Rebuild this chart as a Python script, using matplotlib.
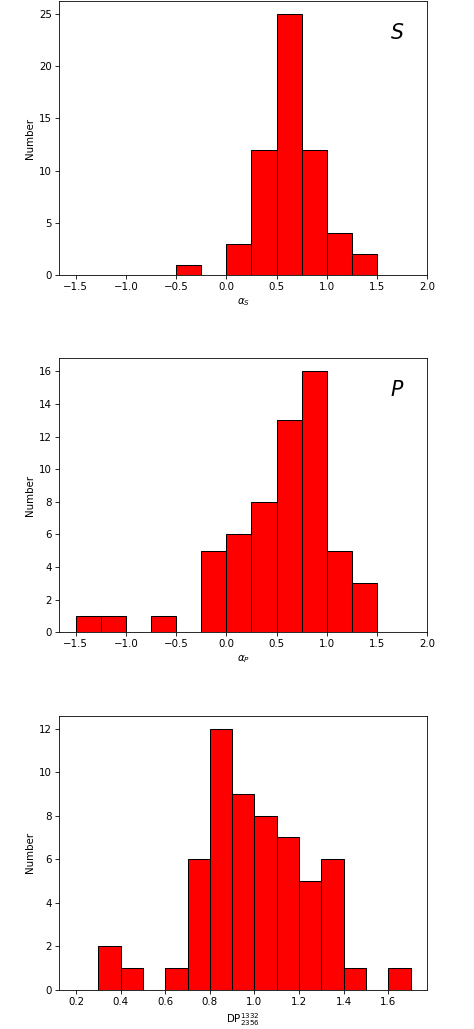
import matplotlib
matplotlib.use("Agg")
import matplotlib.pyplot as plt

# bin edges and counts
alpha_edges = [-1.5, -1.25, -1.0, -0.75, -0.5, -0.25, 0.0, 0.25, 0.5, 0.75, 1.0, 1.25, 1.5, 1.75]
alpha_s_counts = [0, 0, 0, 0, 1, 0, 3, 12, 25, 12, 4, 2, 0]
alpha_p_counts = [1, 1, 0, 1, 0, 5, 6, 8, 13, 16, 5, 3, 0]

dp_edges = [0.2, 0.3, 0.4, 0.5, 0.6, 0.7, 0.8, 0.9, 1.0, 1.1, 1.2, 1.3, 1.4, 1.5, 1.6, 1.7]
dp_counts = [0, 2, 1, 0, 1, 6, 12, 9, 8, 7, 5, 6, 1, 0, 1]

alpha_ticks = [-1.5, -1.0, -0.5, 0.0, 0.5, 1.0, 1.5, 2.0]

sc = 0.74  # the original panels were shrunk to fit
plt.rcParams['font.size'] = 10 * sc
plt.rcParams['axes.linewidth'] = 0.8 * sc
plt.rcParams['xtick.major.width'] = 0.8 * sc
plt.rcParams['ytick.major.width'] = 0.8 * sc
plt.rcParams['xtick.major.size'] = 3.5 * sc
plt.rcParams['ytick.major.size'] = 3.5 * sc
plt.rcParams['xtick.major.pad'] = 3.5 * sc
plt.rcParams['ytick.major.pad'] = 3.5 * sc
plt.rcParams['axes.labelpad'] = 4 * sc

fig = plt.figure(figsize=(4.74, 10.29), dpi=100)
H = 1029.0
w = 368 / 474.0
h = 274 / H
left = 59.3 / 474.0


def hist_panel(ax, edges, counts):
    widths = [edges[i + 1] - edges[i] for i in range(len(counts))]
    ax.bar(edges[:-1], counts, width=widths, align='edge',
           color='red', edgecolor='black', linewidth=1.0 * sc)
    ax.set_ylabel('Number')


# alpha_S
ax1 = fig.add_axes([left, 1 - 275 / H, w, h])
hist_panel(ax1, alpha_edges, alpha_s_counts)
ax1.set_xlim(-1.6625, 2.0)
ax1.set_xticks(alpha_ticks)
ax1.set_xlabel(r'$\alpha_S$')
ax1.text(0.918, 0.883, '$S$', transform=ax1.transAxes, fontsize=20 * sc,
         ha='center', va='center')

# alpha_P
ax2 = fig.add_axes([left, 1 - 632.3 / H, w, h])
hist_panel(ax2, alpha_edges, alpha_p_counts)
ax2.set_xlim(-1.6625, 2.0)
ax2.set_xticks(alpha_ticks)
ax2.set_xlabel(r'$\alpha_P$')
ax2.text(0.918, 0.883, '$P$', transform=ax2.transAxes, fontsize=20 * sc,
         ha='center', va='center')

# DP
ax3 = fig.add_axes([left, 1 - 989.7 / H, w, h])
hist_panel(ax3, dp_edges, dp_counts)
ax3.set_xlabel(r'DP$_{2356}^{1332}$')

fig.savefig('out.png', dpi=100)
